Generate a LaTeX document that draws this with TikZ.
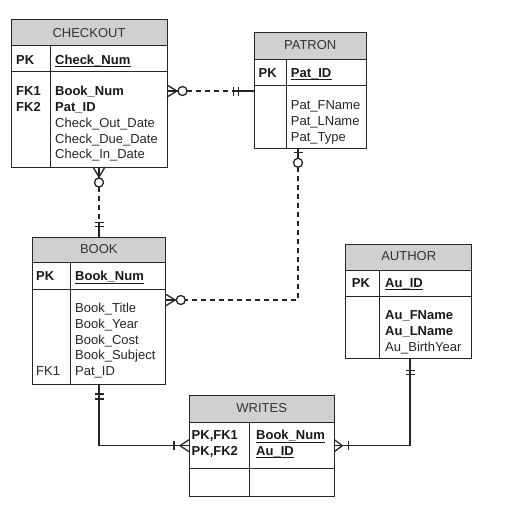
\documentclass[tikz,border=0pt]{standalone}
\usepackage{fontspec}
\setmainfont{Liberation Sans}
\usetikzlibrary{calc}
\definecolor{headgray}{RGB}{208,208,208}

\begin{document}
\begin{tikzpicture}[x=1pt,y=-1pt]
    \tikzstyle{entity}=[draw=black!85,line width=0.9pt,outer sep=0pt,inner sep=0pt,anchor=north west]
    \tikzstyle{head}=[draw=black!85,line width=0.9pt,fill=headgray]
    \tikzstyle{sep}=[draw=black!85,line width=0.9pt]
    \tikzstyle{title}=[font=\fontsize{13}{15.8}\selectfont,text=black!80,inner sep=0pt]
    \tikzstyle{attr}=[font=\fontsize{13}{15.8}\selectfont,text=black!85,inner sep=0pt,anchor=base west]
    \tikzstyle{keyb}=[font=\fontsize{13}{15.8}\selectfont\bfseries,text=black!90,inner sep=0pt,anchor=base west]
    \tikzstyle{uline}=[line width=0.9pt,black!90]
    \tikzstyle{rel}=[line width=1.3pt,black!85]
    \tikzstyle{opt}=[line width=1.3pt,black!85,dash pattern=on 5pt off 4pt]

    \useasboundingbox (0,0) rectangle (506,514);

    % CHECKOUT
    \node[entity,minimum width=156pt,minimum height=147.7pt] (checkout) at (11,19.3) {};
    \filldraw[head] (checkout.north west) rectangle (checkout.east |- 0,45.7);
    \draw[sep] (checkout.west |- 0,71.7) -- (checkout.east |- 0,71.7);
    \draw[sep] (50,45.7) -- (checkout.south -| 50,0);
    \node[title] (co-t) at (89,32.7) {CHECKOUT};
    \node[keyb] (co-pk) at (16,64) {PK};
    \node[keyb] (co-id) at (55,64) {Check\_Num};
    \node[keyb] (co-fk1) at (16,95.7) {FK1};
    \node[keyb] (co-fk2) at (16,111.5) {FK2};
    \node[keyb] (co-a1) at (55,95.7) {Book\_Num};
    \node[keyb] (co-a2) at (55,111.5) {Pat\_ID};
    \node[attr] (co-a3) at (55,127.2) {Check\_Out\_Date};
    \node[attr] (co-a4) at (55,143) {Check\_Due\_Date};
    \node[attr] (co-a5) at (55,158.8) {Check\_In\_Date};
    \draw[uline] ([yshift=-2.3pt]co-id.base west) -- ([yshift=-2.3pt]co-id.base east);

    % PATRON
    \node[entity,minimum width=111.7pt,minimum height=115.6pt] (patron) at (254.3,32.7) {};
    \filldraw[head] (patron.north west) rectangle (patron.east |- 0,59.3);
    \draw[sep] (patron.west |- 0,85.7) -- (patron.east |- 0,85.7);
    \draw[sep] (286.7,59.3) -- (patron.south -| 286.7,0);
    \node[title] (pa-t) at (310.2,45.5) {PATRON};
    \node[keyb] (pa-pk) at (258.5,77.4) {PK};
    \node[keyb] (pa-id) at (290.7,77.4) {Pat\_ID};
    \node[attr] (pa-a1) at (290.7,109.7) {Pat\_FName};
    \node[attr] (pa-a2) at (290.7,125.5) {Pat\_LName};
    \node[attr] (pa-a3) at (290.7,141.2) {Pat\_Type};
    \draw[uline] ([yshift=-2.3pt]pa-id.base west) -- ([yshift=-2.3pt]pa-id.base east);

    % BOOK
    \node[entity,minimum width=133pt,minimum height=146.7pt] (book) at (32.3,237.3) {};
    \filldraw[head] (book.north west) rectangle (book.east |- 0,262.3);
    \draw[sep] (book.west |- 0,289) -- (book.east |- 0,289);
    \draw[sep] (70.7,262.3) -- (book.south -| 70.7,0);
    \node[title] (bo-t) at (98.8,249.5) {BOOK};
    \node[keyb] (bo-pk) at (36,280.7) {PK};
    \node[keyb] (bo-id) at (75,280.7) {Book\_Num};
    \node[attr] (bo-a1) at (75,312.4) {Book\_Title};
    \node[attr] (bo-a2) at (75,328.2) {Book\_Year};
    \node[attr] (bo-a3) at (75,344) {Book\_Cost};
    \node[attr] (bo-a4) at (75,359.7) {Book\_Subject};
    \node[attr] (bo-a5) at (75,375.5) {Pat\_ID};
    \node[attr] (bo-fk1) at (36,375.5) {FK1};
    \draw[uline] ([yshift=-2.3pt]bo-id.base west) -- ([yshift=-2.3pt]bo-id.base east);

    % AUTHOR
    \node[entity,minimum width=126pt,minimum height=114pt] (author) at (345.7,244.3) {};
    \filldraw[head] (author.north west) rectangle (author.east |- 0,270.7);
    \draw[sep] (author.west |- 0,296.7) -- (author.east |- 0,296.7);
    \draw[sep] (379.3,270.7) -- (author.south -| 379.3,0);
    \node[title] (au-t) at (408.7,256.5) {AUTHOR};
    \node[keyb] (au-pk) at (351.7,287.4) {PK};
    \node[keyb] (au-id) at (385,287.4) {Au\_ID};
    \node[keyb] (au-a1) at (385,319.7) {Au\_FName};
    \node[keyb] (au-a2) at (385,335.5) {Au\_LName};
    \node[attr] (au-a3) at (385,351.2) {Au\_BirthYear};
    \draw[uline] ([yshift=-2.3pt]au-id.base west) -- ([yshift=-2.3pt]au-id.base east);

    % WRITES
    \node[entity,minimum width=145.3pt,minimum height=101pt] (writes) at (189,395) {};
    \filldraw[head] (writes.north west) rectangle (writes.east |- 0,422.3);
    \draw[sep] (writes.west |- 0,468.3) -- (writes.east |- 0,468.3);
    \draw[sep] (249.3,422.3) -- (writes.south -| 249.3,0);
    \node[title] (wr-t) at (261.7,408.5) {WRITES};
    \node[keyb] (wr-pk1) at (191.5,439.7) {PK,FK1};
    \node[keyb] (wr-pk2) at (191.5,455.4) {PK,FK2};
    \node[keyb] (wr-id1) at (256,439.7) {Book\_Num};
    \node[keyb] (wr-id2) at (256,455.4) {Au\_ID};
    \draw[uline] ([yshift=-2.3pt]wr-id1.base west) -- ([yshift=-2.3pt]wr-id1.base east);
    \draw[uline] ([yshift=-2.3pt]wr-id2.base west) -- ([yshift=-2.3pt]wr-id2.base east);

    % CHECKOUT -- PATRON
    \coordinate (cp-a) at (checkout.east |- 0,91);
    \coordinate (cp-b) at (patron.west |- 0,91);
    \draw[rel] (cp-a) ++(0,-6) -- ++(10,6) -- ++(-10,6);
    \draw[rel] (cp-a) -- ++(11,0);
    \draw[rel] ($(cp-a)+(15.5,0)$) circle (4.5pt);
    \draw[opt] ($(cp-a)+(20,0)$) -- ($(cp-b)+(-21,0)$);
    \draw[rel] ($(cp-b)+(-21,0)$) -- (cp-b);
    \draw[rel] ($(cp-b)+(-21,-4.5)$) -- ++(0,9);
    \draw[rel] ($(cp-b)+(-16,-4.5)$) -- ++(0,9);

    % CHECKOUT -- BOOK
    \coordinate (cb-a) at (checkout.south -| 99,0);
    \coordinate (cb-b) at (book.north -| 99,0);
    \draw[rel] (cb-a) ++(-6,0) -- ++(6,10) -- ++(6,-10);
    \draw[rel] (cb-a) -- ++(0,11);
    \draw[rel] ($(cb-a)+(0,15.5)$) circle (4.5pt);
    \draw[opt] ($(cb-a)+(0,20)$) -- ($(cb-b)+(0,-15)$);
    \draw[rel] ($(cb-b)+(0,-15)$) -- (cb-b);
    \draw[rel] ($(cb-b)+(-4.5,-15)$) -- ++(9,0);
    \draw[rel] ($(cb-b)+(-4.5,-11)$) -- ++(9,0);

    % PATRON -- BOOK
    \coordinate (pb-a) at (patron.south -| 298,0);
    \coordinate (pb-b) at (book.east |- 0,300);
    \draw[rel] (pb-a) -- ++(0,10.5);
    \draw[rel] ($(pb-a)+(-4.5,4.5)$) -- ++(9,0);
    \draw[rel] ($(pb-a)+(0,14.5)$) circle (4.5pt);
    \draw[opt] ($(pb-a)+(0,19)$) |- ($(pb-b)+(20,0)$);
    \draw[rel] (pb-b) ++(0,-6) -- ++(10,6) -- ++(-10,6);
    \draw[rel] (pb-b) -- ++(11,0);
    \draw[rel] ($(pb-b)+(15.5,0)$) circle (4.5pt);

    % BOOK -- WRITES
    \coordinate (bw-a) at (book.south -| 99,0);
    \coordinate (bw-b) at (writes.west |- 0,445.7);
    \draw[rel] (bw-a) |- (bw-b);
    \draw[rel] ($(bw-a)+(-4.5,10)$) -- ++(9,0);
    \draw[rel] ($(bw-a)+(-4.5,15)$) -- ++(9,0);
    \draw[rel] (bw-b) ++(0,-6) -- ++(-9,6) -- ++(9,6);
    \draw[rel] ($(bw-b)+(-15,-4.5)$) -- ++(0,9);

    % WRITES -- AUTHOR
    \coordinate (wa-a) at (writes.east |- 0,445.7);
    \coordinate (wa-b) at (author.south -| 410,0);
    \draw[rel] (wa-a) -| (wa-b);
    \draw[rel] (wa-a) ++(0,-6) -- ++(8,6) -- ++(-8,6);
    \draw[rel] ($(wa-a)+(14,-4.5)$) -- ++(0,9);
    \draw[rel] ($(wa-b)+(-4.5,12)$) -- ++(9,0);
    \draw[rel] ($(wa-b)+(-4.5,16)$) -- ++(9,0);
\end{tikzpicture}
\end{document}
